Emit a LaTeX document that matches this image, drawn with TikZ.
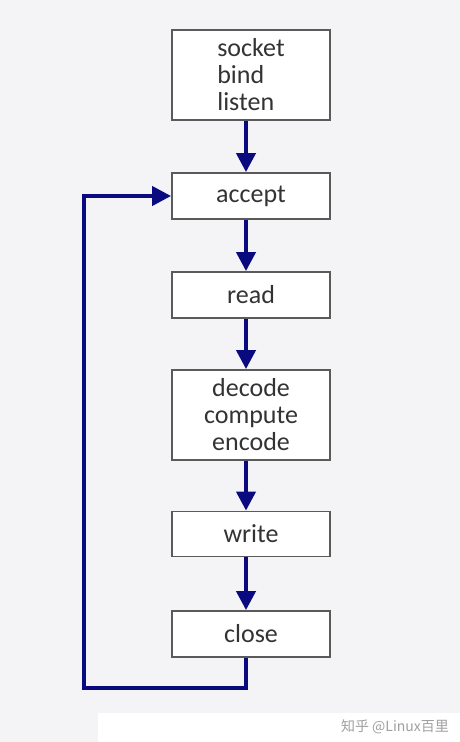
\documentclass[tikz,border=0pt]{standalone}
\usepackage{fontspec}
\setmainfont{Carlito}
\newfontfamily\cjk{Noto Sans CJK SC}
\usetikzlibrary{arrows.meta}

\definecolor{bgGray}{HTML}{F4F4F6}
\definecolor{boxLine}{HTML}{5A5A5A}
\definecolor{txtGray}{HTML}{333333}
\definecolor{flowBlue}{HTML}{0A0A80}
\definecolor{markGray}{HTML}{A0A0A0}

\tikzset{
  stagebox/.style={draw=boxLine, line width=1.8pt, fill=white, minimum width=158pt,
    text=txtGray, font=\fontsize{26}{27}\selectfont, inner sep=0pt},
  flow/.style={draw=flowBlue, line width=4pt,
    -{Triangle[width=19pt,length=19pt]}}
}

\begin{document}
\begin{tikzpicture}[x=1pt, y=-1pt]

  % -- Canvas --
  \useasboundingbox (0,0) rectangle (460,742);
  \fill[bgGray] (0,0) rectangle (460,742);
  \fill[white] (98,713) rectangle (460,742);

  % -- Stages --
  \node[stagebox, minimum height=90pt, align=left] (setup) at (251,75) {socket\\bind\\listen};
  \node[stagebox, minimum height=46pt] (accept) at (251,196) {accept};
  \node[stagebox, minimum height=46pt] (read) at (251,295) {read};
  \node[stagebox, minimum height=90pt, align=center] (codec) at (251,415) {decode\\compute\\encode};
  \node[stagebox, minimum height=45pt] (write) at (251,534) {write};
  \node[stagebox, minimum height=46pt] (close) at (251,634) {close};

  % -- Forward arrows --
  \draw[flow] ([xshift=-5pt]setup.south) -- ([xshift=-5pt]accept.north);
  \draw[flow] ([xshift=-5pt]accept.south) -- ([xshift=-5pt]read.north);
  \draw[flow] ([xshift=-5pt]read.south) -- ([xshift=-5pt]codec.north);
  \draw[flow] ([xshift=-5pt]codec.south) -- ([xshift=-5pt]write.north);
  \draw[flow] ([xshift=-5pt]write.south) -- ([xshift=-5pt]close.north);

  % -- Loop back --
  \coordinate (loopcorner) at (84,688);
  \draw[flow, line join=miter] ([xshift=-5pt]close.south) |- (loopcorner) |- (accept.west);

  % -- Watermark --
  \node[text=markGray, font=\cjk\fontsize{14}{16}\selectfont] (mark) at (395,727) {知乎 @Linux百里};

\end{tikzpicture}
\end{document}
